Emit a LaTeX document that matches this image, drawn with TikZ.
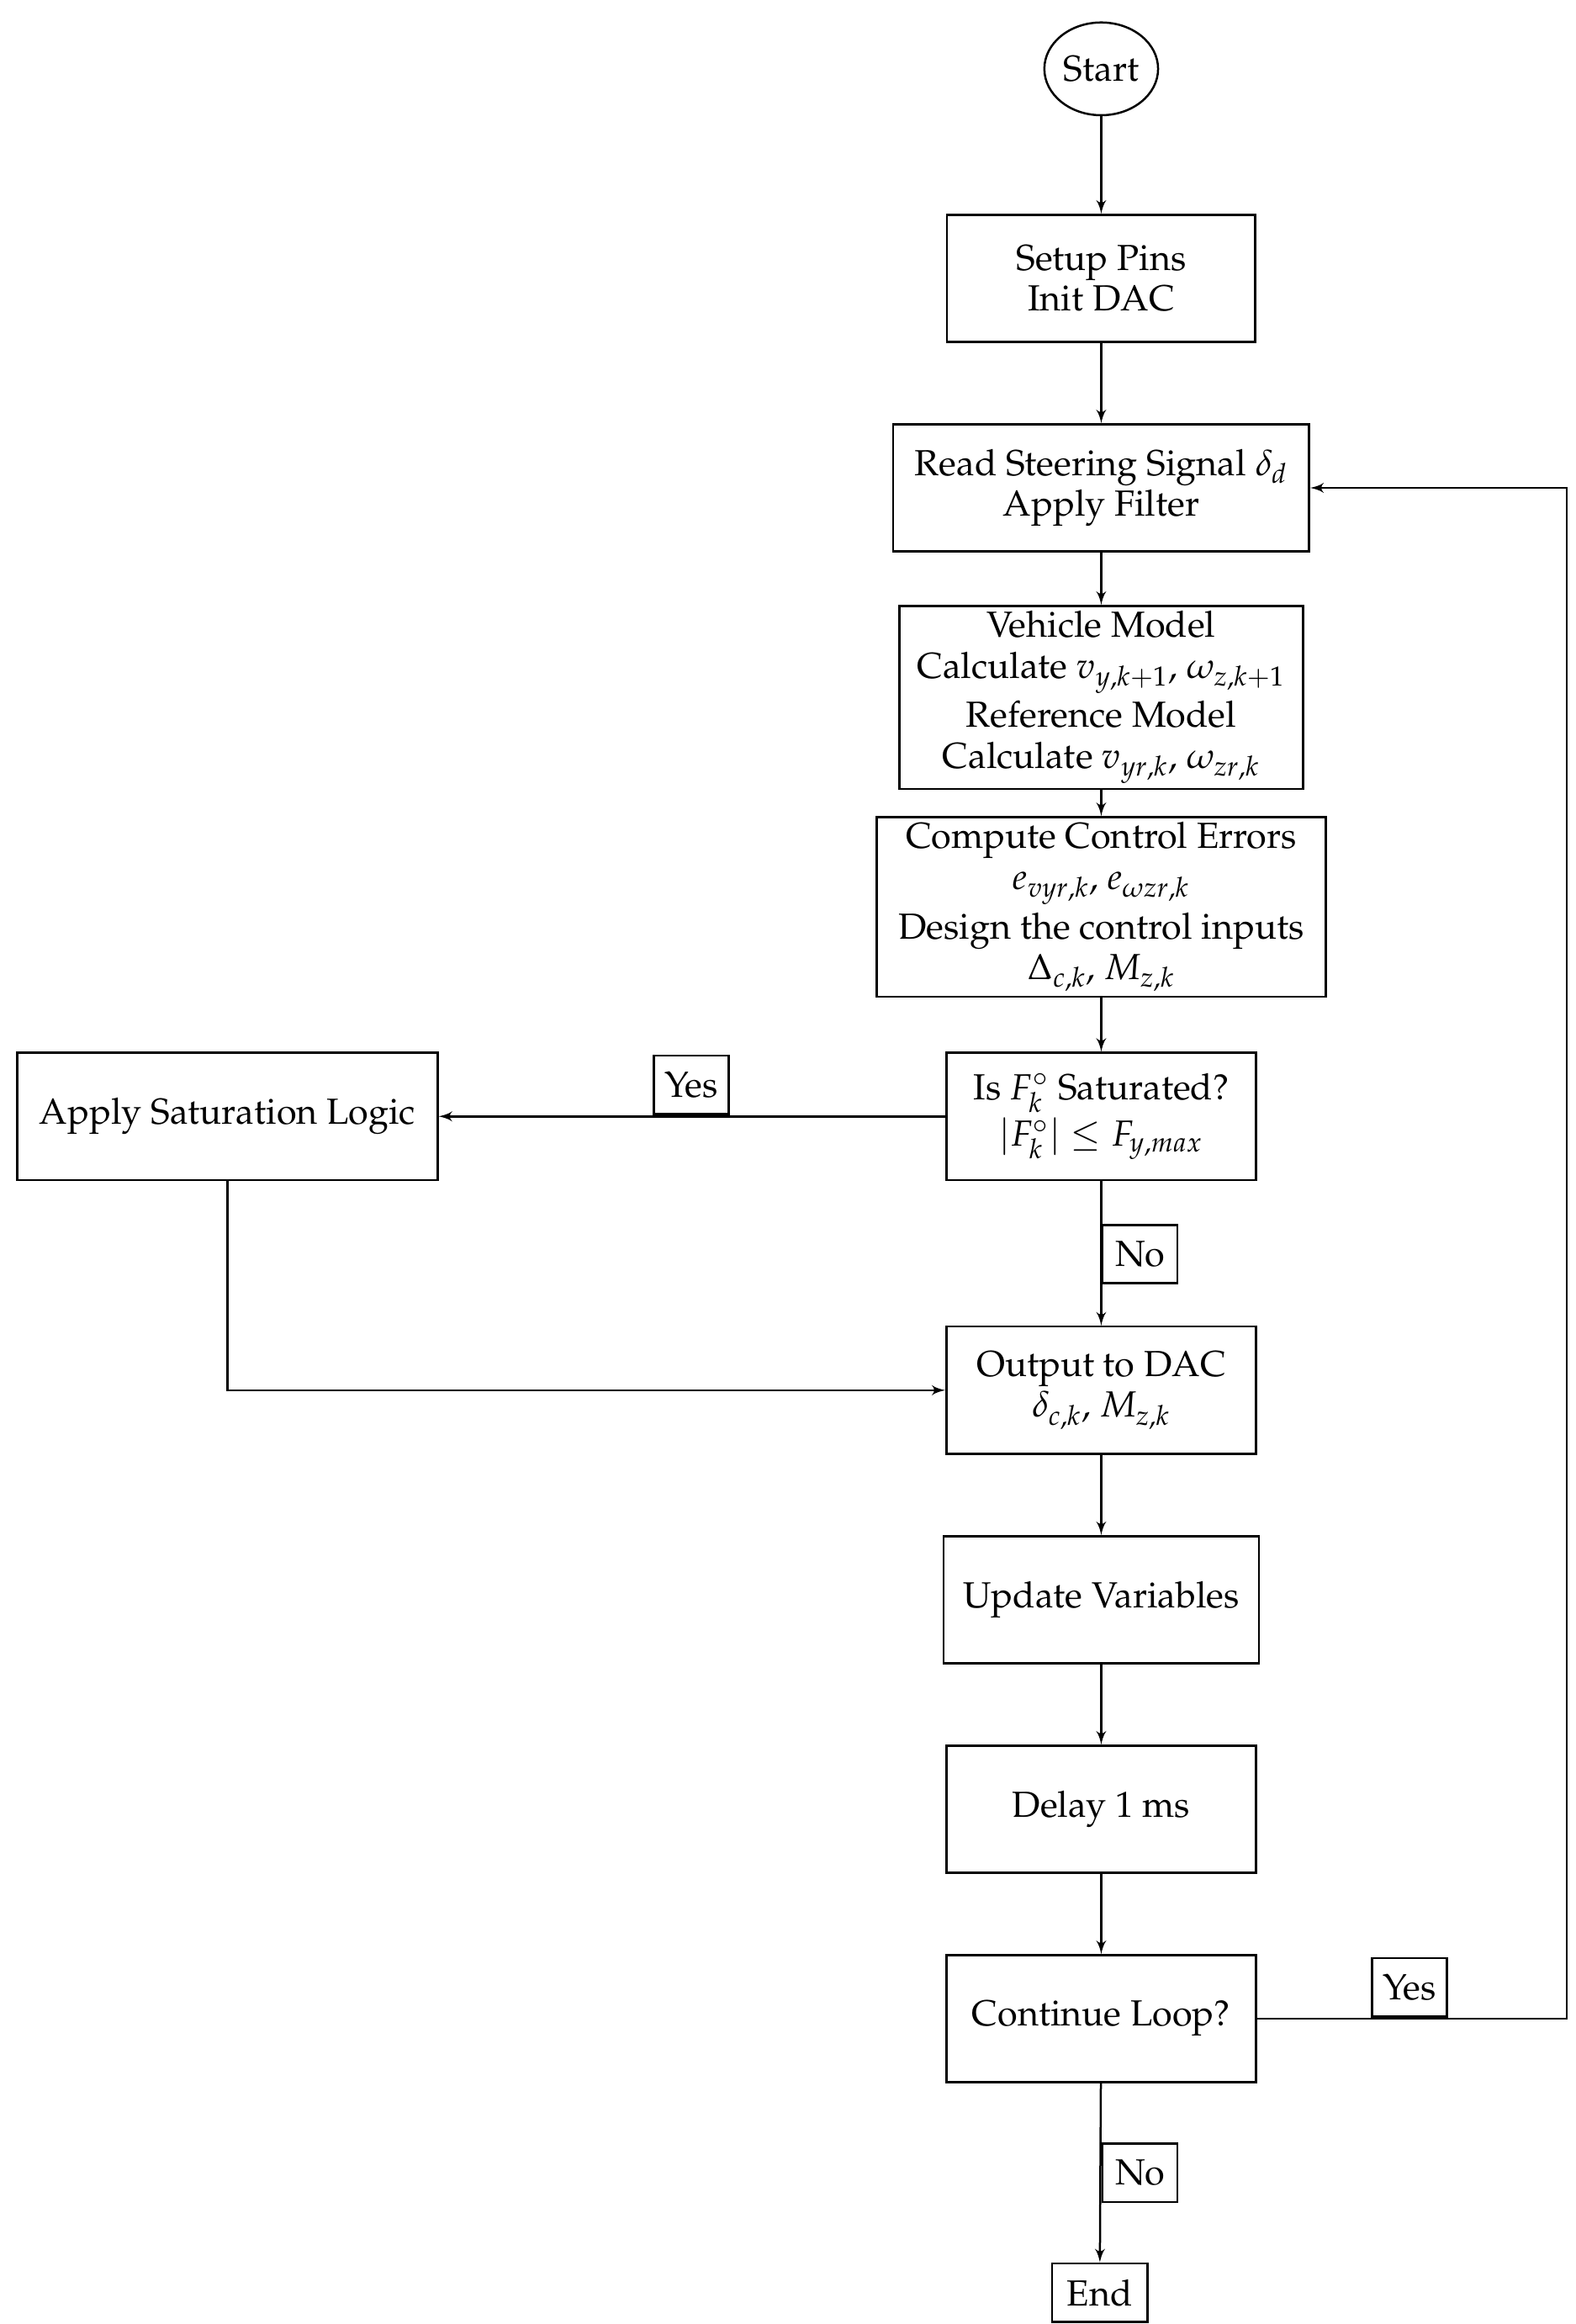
\documentclass[tikz,border=0pt]{standalone}
\usepackage{amsmath}
\usepackage[T1]{fontenc}
\usepackage{mathpazo}
\usepackage{tikz}
\usetikzlibrary{shapes,arrows,calc,positioning}
\tikzset{box/.style={draw, thick, rectangle, align=center, minimum height=1.7cm, inner sep=2pt, font=\fontsize{13.8}{15.5}\selectfont}}
\tikzset{tag/.style={draw, thick, rectangle, inner sep=3pt, minimum width=1cm, minimum height=0.78cm, font=\fontsize{13.8}{15.5}\selectfont}}
\tikzset{line/.style={draw, thick, -latex'}}

\begin{document}
\begin{tikzpicture}[x=0.02cm,y=-0.02cm]
\useasboundingbox (0,0) rectangle (1053,1553);
\node [draw, thick, ellipse, inner sep=1pt, minimum width=1.52cm, minimum height=1.24cm, font=\fontsize{13.8}{15.5}\selectfont] (start) at (736,46) {Start};
\node [box, minimum width=4.12cm] (setup) at (736,186) {Setup Pins\\ Init DAC};
\node [box, minimum width=5.56cm] (read) at (736,326) {Read Steering Signal $\delta_d$\\ Apply Filter};
\node [box, minimum width=5.4cm, minimum height=2.34cm] (model) at (736,466) {Vehicle Model\\ Calculate $v_{y,k+1}$, $\omega_{z,k+1}$\\[2pt] Reference Model\\ Calculate $v_{yr,k}$, $\omega_{zr,k}$};
\node [box, minimum width=6cm, minimum height=2.32cm] (errors) at (736,606) {Compute Control Errors\\ $e_{vyr,k}$, $e_{\omega zr,k}$\\[2pt] Design the control inputs\\ $\Delta_{c,k}$, $M_{z,k}$};
\node [box, minimum width=4.14cm] (sat) at (736,746) {Is $F_k^{\circ}$ Saturated?\\[1pt] $|F_k^{\circ}| \leq F_{y,max}$};
\node [box, minimum width=5.62cm] (logic) at (152,746) {Apply Saturation Logic};
\node [box, minimum width=4.14cm] (dac) at (736,929) {Output to DAC\\ $\delta_{c,k}$, $M_{z,k}$};
\node [box, minimum width=4.22cm] (update) at (736,1069) {Update Variables};
\node [box, minimum width=4.14cm] (delay) at (736,1209) {Delay 1 ms};
\node [box, minimum width=4.14cm] (loop) at (736,1349) {Continue Loop?};
\node [tag, minimum width=1.28cm] (end) at (735,1532) {End};
\node [tag] (yes1) at (462,725) {Yes};
\node [tag] (no1) at (762,838) {No};
\node [tag] (yes2) at (942,1328) {Yes};
\node [tag] (no2) at (762,1452) {No};
\coordinate (back) at (1047,1349);
%
\path [line] (start) -- (setup);
\path [line] (setup) -- (read);
\path [line] (read) -- (model);
\path [line] (model) -- (errors);
\path [line] (errors) -- (sat);
\path [line] (sat) -- (logic);
\path [line] (sat) -- (dac);
\path [line] (logic) |- (dac);
\path [line] (dac) -- (update);
\path [line] (update) -- (delay);
\path [line] (delay) -- (loop);
\path [line] (loop) -- (end);
\path [line] (loop.east) -- (back) |- (read.east);
\end{tikzpicture}
\end{document}
